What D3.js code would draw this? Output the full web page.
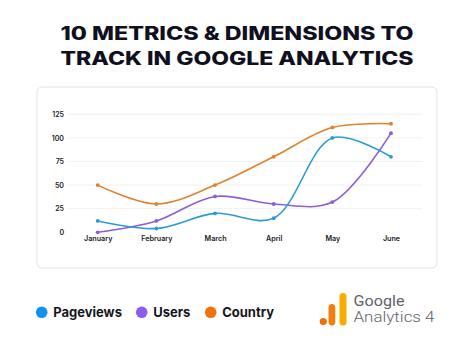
<!DOCTYPE html>
<html><head><meta charset="utf-8">
<script src="https://cdn.jsdelivr.net/npm/d3@7"></script>
<style>
html,body{margin:0;padding:0;background:#fff;}
svg{display:block;}
</style></head>
<body>
<svg id="c" width="474" height="355"></svg>
<script>
const months = ["January","February","March","April","May","June"];
const pageviews = [12, 4, 20, 15, 100, 80];
const users = [0, 12, 38, 30, 32, 105];
const country = [50, 30, 50, 80, 111, 115];
const yTicks = [0, 25, 50, 75, 100, 125];
const seriesNames = ["Pageviews","Users","Country"];
const lineColors = ["#2b9bd4","#8c5fd4","#e0812d"];
const dotColors = ["#1190f0","#8f5cf0","#f2720f"];

const svg = d3.select("#c");
const titleFont = "Inter, 'Open Sans', sans-serif";

// title
svg.append("text").attr("x",237).attr("y",40).attr("text-anchor","middle")
  .attr("font-family",titleFont).attr("font-weight",800).attr("font-size",18.5)
  .attr("fill","#10101e").attr("textLength",353).attr("lengthAdjust","spacingAndGlyphs")
  .text("10 METRICS & DIMENSIONS TO");
svg.append("text").attr("x",237).attr("y",64.5).attr("text-anchor","middle")
  .attr("font-family",titleFont).attr("font-weight",800).attr("font-size",18.5)
  .attr("fill","#10101e").attr("textLength",353).attr("lengthAdjust","spacingAndGlyphs")
  .text("TRACK IN GOOGLE ANALYTICS");

// card
svg.append("rect").attr("x",37).attr("y",87).attr("width",400).attr("height",181)
  .attr("rx",5).attr("fill","#fff").attr("stroke","#e3e3e3").attr("stroke-width",1);

const x = d3.scalePoint().domain(months).range([97.7, 391]);
const y = d3.scaleLinear().domain([0,125]).range([232.3, 114.3]);

// gridlines
svg.append("g").selectAll("line").data(yTicks.filter(d=>d>0)).join("line")
  .attr("x1",68).attr("x2",422).attr("y1",d=>y(d)).attr("y2",d=>y(d))
  .attr("stroke","#f1f1f1").attr("stroke-width",1);

// y axis
const yAxis = svg.append("g").attr("transform","translate(64,0)")
  .call(d3.axisLeft(y).tickValues(yTicks).tickSize(0).tickPadding(0));
yAxis.select(".domain").remove();
yAxis.selectAll("text").attr("font-family","Inter, sans-serif").attr("font-weight",600)
  .attr("font-size",7).attr("fill","#222");

// x axis
const xAxis = svg.append("g").attr("transform","translate(0,236)")
  .call(d3.axisBottom(x).tickSize(0).tickPadding(0));
xAxis.select(".domain").remove();
xAxis.selectAll("text").attr("font-family","Inter, sans-serif").attr("font-weight",600)
  .attr("font-size",7.2).attr("fill","#222").attr("dy","0.71em");

const data = [pageviews, users, country];
const line = d3.line().x((d,i)=>x(months[i])).y(d=>y(d)).curve(d3.curveCatmullRom.alpha(0.5));
// draw in order: country, users, pageviews
[2,1,0].forEach(k=>{
  svg.append("path").datum(data[k]).attr("d",line).attr("fill","none")
    .attr("stroke",lineColors[k]).attr("stroke-width",1.6);
  svg.append("g").selectAll("circle").data(data[k]).join("circle")
    .attr("cx",(d,i)=>x(months[i])).attr("cy",d=>y(d)).attr("r",1.9)
    .attr("fill",lineColors[k]);
});

// legend
const legX = [41.7, 141.7, 210.7];
const leg = svg.append("g");
seriesNames.forEach((n,i)=>{
  leg.append("circle").attr("cx",legX[i]).attr("cy",312.3).attr("r",5.8).attr("fill",dotColors[i]);
  leg.append("text").attr("x",legX[i]+11.5).attr("y",317).attr("font-family","Inter, sans-serif")
    .attr("font-weight",700).attr("font-size",13).attr("fill","#15151f").text(n);
});

// GA4 logo
const logo = svg.append("g");
logo.append("circle").attr("cx",323.3).attr("cy",321.5).attr("r",3.6).attr("fill","#e8710a");
logo.append("rect").attr("x",328.5).attr("y",304).attr("width",6.8).attr("height",21.5).attr("rx",3.4).attr("fill","#f07f0e");
logo.append("rect").attr("x",339.5).attr("y",293).attr("width",7).attr("height",32.5).attr("rx",3.5).attr("fill","#f9ab00");
logo.append("text").attr("x",353.5).attr("y",305.5).attr("font-family","Roboto, sans-serif").attr("font-weight",400)
  .attr("font-size",14).attr("fill","#5f6368").attr("textLength",51).attr("lengthAdjust","spacingAndGlyphs").text("Google");
logo.append("text").attr("x",353.5).attr("y",322).attr("font-family","Roboto, sans-serif").attr("font-weight",300)
  .attr("font-size",14).attr("fill","#5f6368").attr("textLength",81).attr("lengthAdjust","spacingAndGlyphs").text("Analytics 4");
</script>
</body></html>
